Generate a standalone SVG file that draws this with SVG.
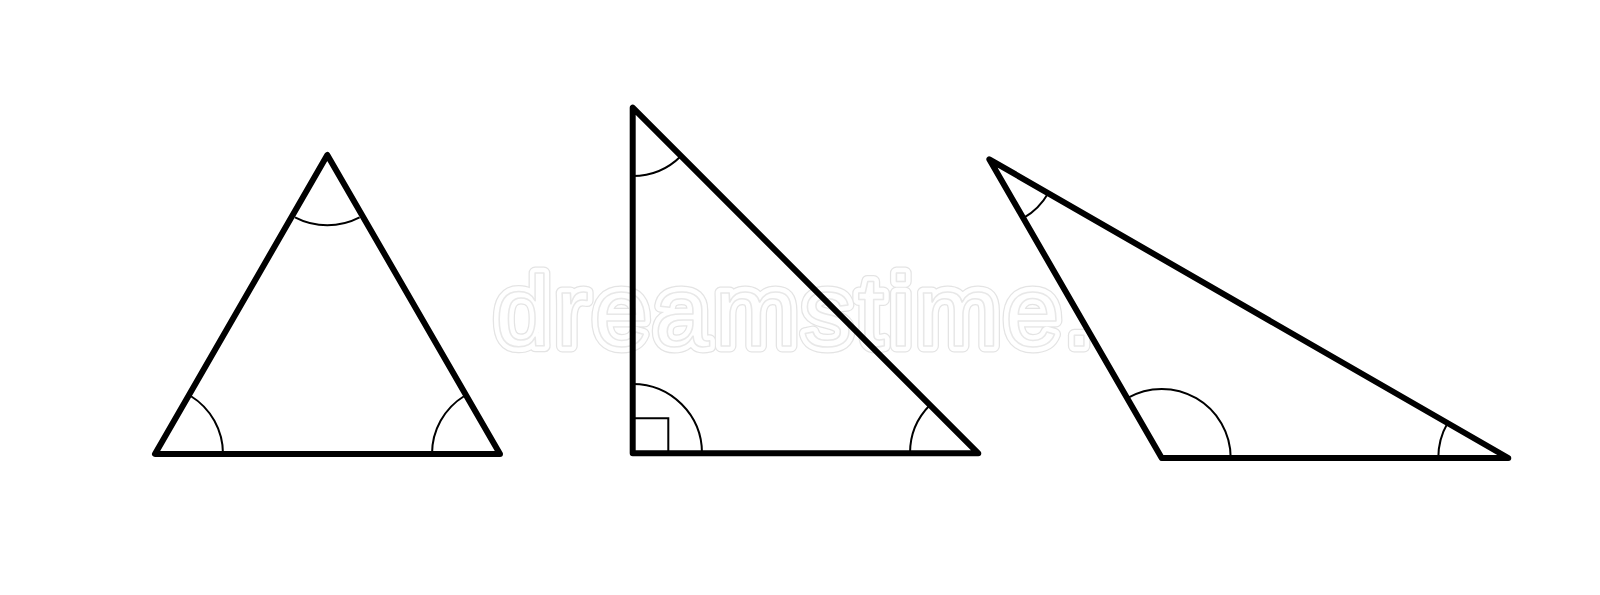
<svg xmlns="http://www.w3.org/2000/svg" width="1600" height="595" viewBox="0 0 1600 595">
<style>
.edge{fill:none;stroke:#000;stroke-width:6;stroke-linejoin:round;stroke-linecap:round}
.arc{fill:none;stroke:#000;stroke-width:2}
.wm{font-family:"Liberation Sans",Arial,sans-serif;font-size:100px;fill:none;stroke-linejoin:round}
</style>
<rect width="1600" height="595" fill="#fff"/>
<g id="watermark">
<text class="wm" x="495" y="346" textLength="598" lengthAdjust="spacing" stroke="#e4e4e4" stroke-width="13">dreamstime.</text>
<text class="wm" x="495" y="346" textLength="598" lengthAdjust="spacing" stroke="#fff" stroke-width="10.5">dreamstime.</text>
<text class="wm" x="495" y="346" textLength="598" lengthAdjust="spacing" stroke="#e8e8e8" stroke-width="1.5">dreamstime.</text>
</g>
<g id="triangle-acute">
<polygon class="edge" points="327.3,155 155,454 500,454"/>
<path class="arc" d="M295,217.3 A70,70 0 0 0 359.6,217.3"/>
<path class="arc" d="M190.7,396 A68,68 0 0 1 223,454"/>
<path class="arc" d="M464.3,396 A68,68 0 0 0 432,454"/>
</g>
<g id="triangle-right">
<polygon class="edge" points="632.7,107.7 632.7,453.3 978.3,453.3"/>
<path class="arc" d="M632.7,176 A68.3,68.3 0 0 0 681,156"/>
<path class="arc" d="M632.7,384 A69.3,69.3 0 0 1 702,453.3"/>
<path class="arc" d="M632.7,418.3 H668.3 V453.3"/>
<path class="arc" d="M930,405 A68.3,68.3 0 0 0 910,453.3"/>
</g>
<g id="triangle-obtuse">
<polygon class="edge" points="989.3,159.3 1161.7,458 1508.3,458"/>
<path class="arc" d="M1023.3,218.2 A68,68 0 0 0 1048.2,193.2"/>
<path class="arc" d="M1127.2,398.2 A69,69 0 0 1 1230.7,458"/>
<path class="arc" d="M1447.6,423.1 A70,70 0 0 0 1438.3,458"/>
</g>
</svg>
